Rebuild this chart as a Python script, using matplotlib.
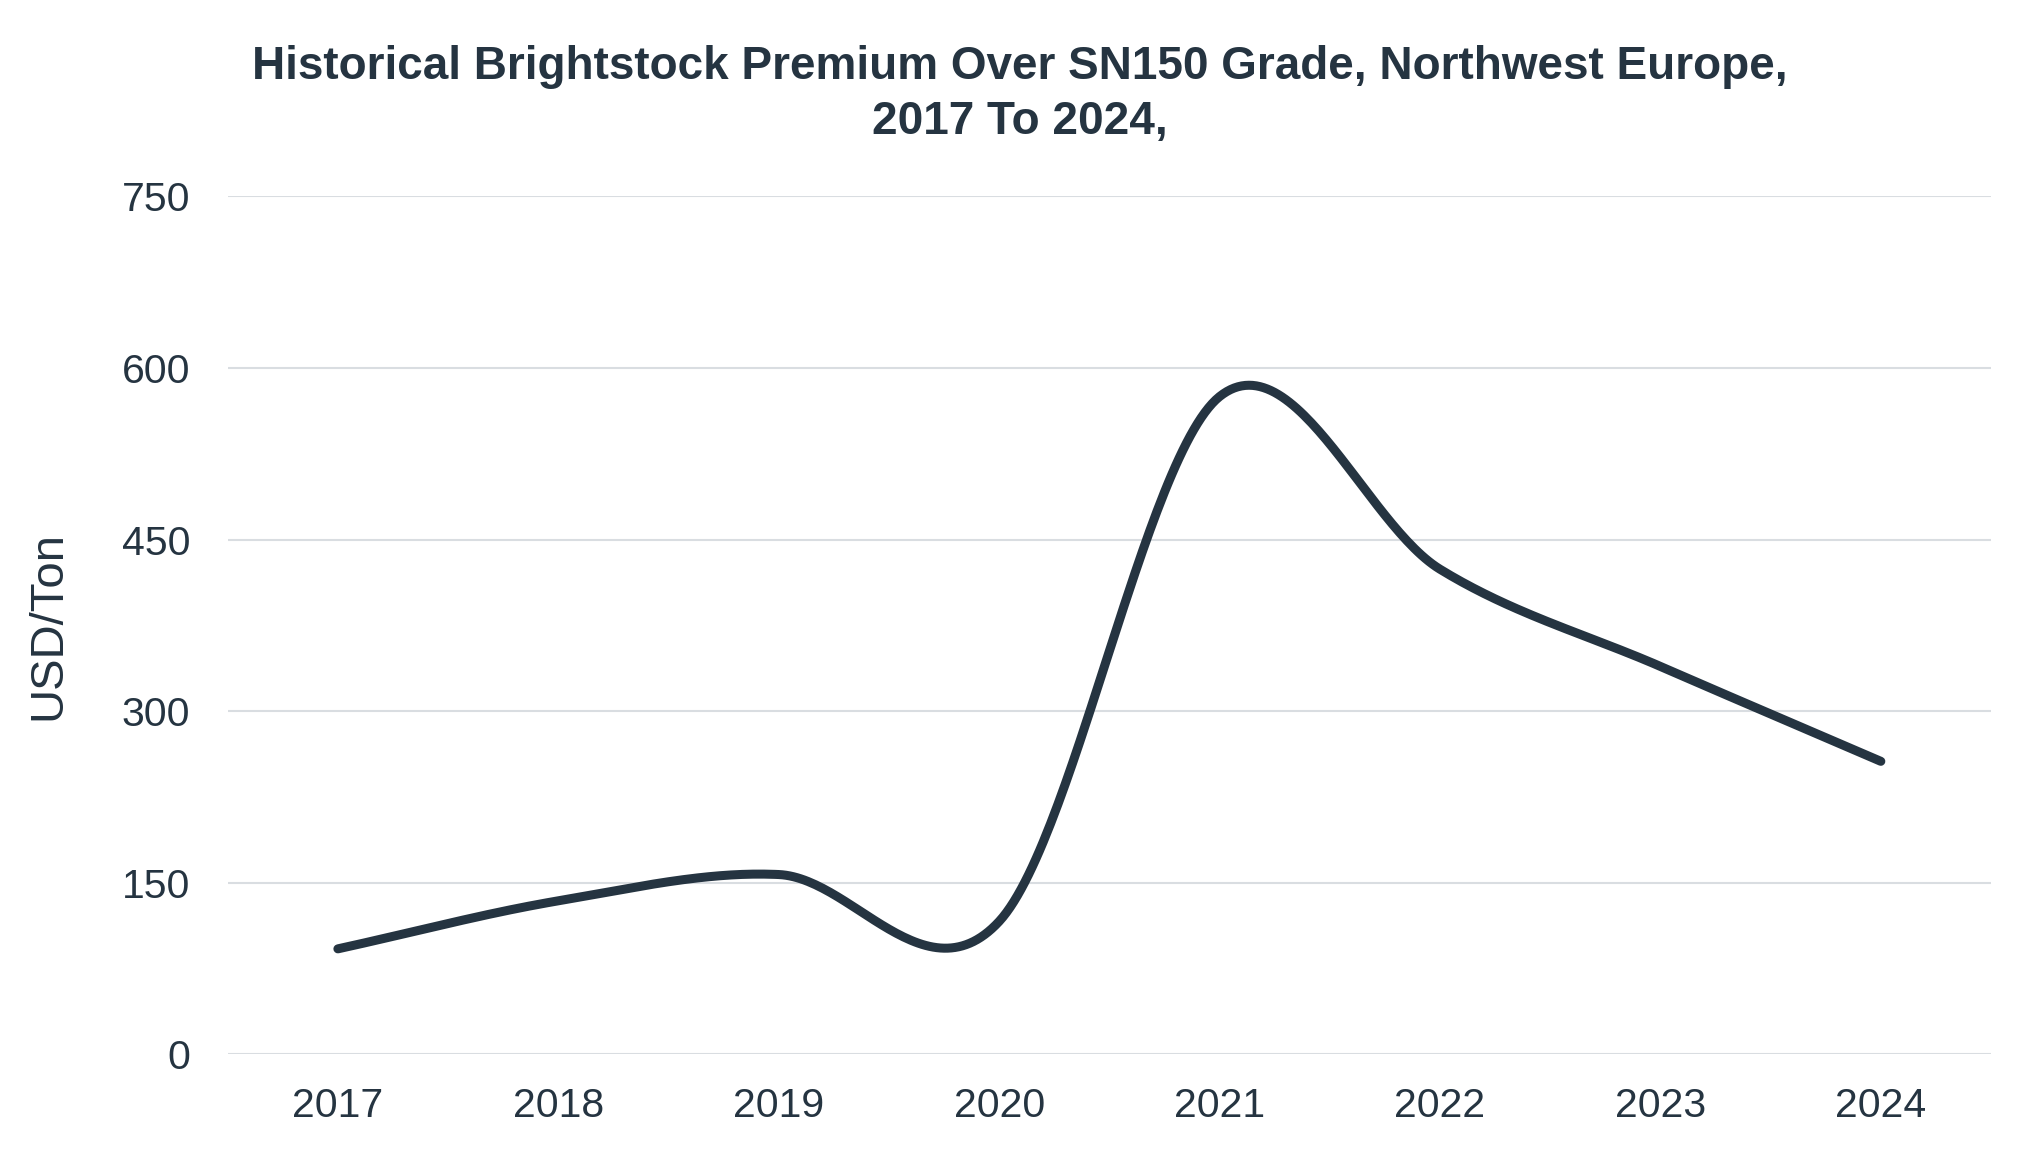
import numpy as np
import matplotlib
matplotlib.use("Agg")
import matplotlib.pyplot as plt

years = ["2017", "2018", "2019", "2020", "2021", "2022", "2023", "2024"]
premium = [92, 134, 157, 116, 575, 424, 339, 256]
y_ticks = [0, 150, 300, 450, 600, 750]
title = "Historical Brightstock Premium Over SN150 Grade, Northwest Europe,\n2017 To 2024,"
y_label = "USD/Ton"

plt.rcParams['font.family'] = ['Liberation Sans', 'DejaVu Sans']
TXT = "#253441"
LINE = "#253441"
GRID = "#d9dde1"

def catmull_rom(x, y, n=60):
    x = np.asarray(x, float); y = np.asarray(y, float)
    m = np.zeros_like(y)
    m[1:-1] = (y[2:] - y[:-2]) / (x[2:] - x[:-2])
    m[0] = (y[1] - y[0]) / (x[1] - x[0])
    m[-1] = (y[-1] - y[-2]) / (x[-1] - x[-2])
    xs, ys = [], []
    for i in range(len(x) - 1):
        h = x[i + 1] - x[i]
        t = np.linspace(0, 1, n, endpoint=(i == len(x) - 2))
        h00 = 2*t**3 - 3*t**2 + 1
        h10 = t**3 - 2*t**2 + t
        h01 = -2*t**3 + 3*t**2
        h11 = t**3 - t**2
        xs.append(x[i] + t*h)
        ys.append(h00*y[i] + h10*h*m[i] + h01*y[i+1] + h11*h*m[i+1])
    return np.concatenate(xs), np.concatenate(ys)

fig = plt.figure(figsize=(20.4, 11.55), dpi=100)
ax = fig.add_axes([0.1116, 0.0874, 0.8644, 0.7425])

idx = np.arange(len(years))
sx, sy = catmull_rom(idx, premium)
ax.plot(sx, sy, color=LINE, lw=6.5, solid_capstyle='round', solid_joinstyle='round')

ax.set_xlim(-0.5, len(years) - 0.5)
ax.set_ylim(0, 750)
ax.set_xticks(idx)
ax.set_xticklabels(years)
ax.set_yticks(y_ticks)
ax.yaxis.grid(True, color=GRID, lw=1.5)
ax.set_axisbelow(True)
for s in ax.spines.values():
    s.set_visible(False)
ax.tick_params(axis='both', length=0, labelsize=29.5, colors=TXT)
ax.tick_params(axis='y', pad=27)
ax.tick_params(axis='x', pad=24)
ax.set_ylabel(y_label, fontsize=34, color=TXT, labelpad=37)

fig.text(0.5, 0.961, title, ha='center', va='top', fontsize=33,
         fontweight='bold', color=TXT, linespacing=1.32)

fig.savefig("out.png", dpi=100)
